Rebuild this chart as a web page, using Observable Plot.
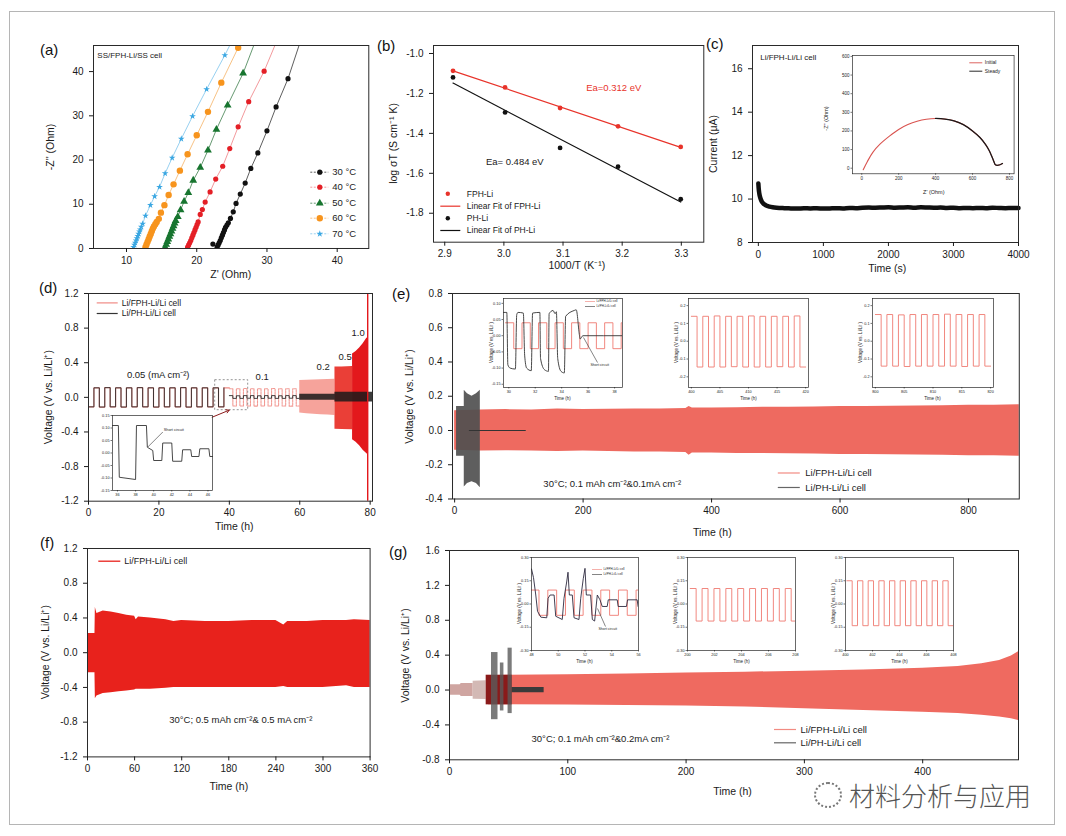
<!DOCTYPE html>
<html><head><meta charset="utf-8">
<script src="https://cdn.jsdelivr.net/npm/d3@7"></script>
<script src="https://cdn.jsdelivr.net/npm/@observablehq/plot@0.6"></script>
<style>
body{margin:0;background:#fff;}
#root{position:relative;width:1066px;height:836px;overflow:hidden;background:#fff;font-family:"Liberation Sans",Arial,Helvetica,sans-serif;}
.plab{position:absolute;font-size:15px;line-height:18px;color:#111;}
</style></head><body><div id="root"></div>
<script>
// ================= DATA =================
// (a) Nyquist plots, SS/FPH-Li/SS
const a30x=[22.3,22.9,23.05,23.2,23.35,23.5,23.65,23.8,23.95,24.1,24.3,24.5,24.8,25.2,25.6,26.2,26.9,27.7,28.7,30.0,31.3,33.0,34.9];
const a30y=[1.0,0.3,0.8,1.3,1.8,2.4,3.0,3.6,4.2,4.8,5.3,5.8,6.8,8.3,10.2,12.3,14.8,18.1,21.6,26.6,32.0,38.4,47.5];
const a40x=[18.7,18.85,19.0,19.15,19.3,19.45,19.6,19.75,19.9,20.05,20.2,20.5,20.8,21.2,21.9,22.7,23.7,24.7,25.9,27.4,29.6,31.55];
const a40y=[0.3,0.8,1.3,1.8,2.4,3.0,3.6,4.2,4.8,5.4,6.0,7.7,8.8,10.5,12.8,15.7,18.6,22.6,27.5,33.2,40.1,47.5];
const a50x=[15.5,15.65,15.8,15.95,16.1,16.25,16.4,16.55,16.7,16.85,17.0,17.3,17.7,18.2,18.8,19.5,20.5,21.6,22.8,24.4,26.6,28.5];
const a50y=[0.3,0.9,1.5,2.1,2.7,3.3,3.9,4.5,5.1,5.7,6.3,7.2,8.7,10.6,12.6,15.4,18.3,22.2,26.9,32.4,39.6,47.5];
const a60x=[12.7,12.85,13.0,13.15,13.3,13.45,13.6,13.75,13.9,14.1,14.3,14.6,14.9,15.4,16.0,16.7,17.6,18.7,20.0,21.6,23.5,25.9,26.5];
const a60y=[0.3,0.9,1.5,2.1,2.7,3.3,3.9,4.5,5.0,5.5,6.0,6.7,8.1,9.8,12.1,14.5,17.6,21.3,25.6,30.9,37.5,45.4,47.5];
const a70x=[11.0,11.12,11.24,11.36,11.48,11.6,11.72,11.84,11.96,12.1,12.3,12.7,13.4,14.0,14.7,15.5,16.5,17.8,19.4,21.4,24.0,25.2];
const a70y=[0.3,0.8,1.3,1.8,2.3,2.8,3.3,3.8,4.3,4.9,5.6,7.4,9.8,11.8,13.9,17.0,20.5,24.8,29.9,36.0,43.7,47.5];
const aLabels=["30 °C","40 °C","50 °C","60 °C","70 °C"];
const aXTicks=[10,20,30,40], aYTicks=[0,10,20,30,40];

// (b) Arrhenius
const bX=[2.914,3.002,3.095,3.193,3.299];
const bFPH=[-1.087,-1.170,-1.273,-1.365,-1.468];
const bPH=[-1.120,-1.295,-1.473,-1.567,-1.730];
const bXTicks=[2.9,3.0,3.1,3.2,3.3], bYTicks=[-1.8,-1.6,-1.4,-1.2,-1.0];
const bLegend=["FPH-Li","Linear Fit of FPH-Li","PH-Li","Linear Fit of PH-Li"];

// (c) Chronoamperometry + inset EIS
const cT=[0,5,15,30,50,75,100,130,170,220,280,350,400,500,600,700,800,900,1000,1100,1200,1300,1400,1500,1600,1700,1800,1900,2000,2100,2200,2300,2400,2500,2600,2700,2800,2900,3000,3100,3200,3300,3400,3500,3600,3700,3800,3900,4000];
const cI=[10.72,10.5,10.25,10.05,9.9,9.8,9.74,9.69,9.65,9.62,9.6,9.59,9.58,9.57,9.56,9.58,9.57,9.58,9.56,9.57,9.58,9.57,9.59,9.58,9.6,9.61,9.6,9.61,9.62,9.6,9.61,9.62,9.6,9.62,9.61,9.6,9.61,9.59,9.6,9.58,9.59,9.58,9.59,9.58,9.6,9.59,9.58,9.59,9.59];
const cZr=[8,30,60,100,150,200,250,300,350,400,450,500,550,600,640,670,690,705,716,724,740,762];
const cZi=[-8,35,85,130,172,208,234,252,263,267,264,254,234,200,165,128,95,62,35,18,16,25];
const cXTicks=[0,1000,2000,3000,4000], cYTicks=[8,10,12,14,16];
const cInXTicks=[0,200,400,600,800], cInYTicks=[0,100,200,300,400,500,600];

// (d) rate capability
const dS1Low=[-0.11,-0.112,-0.11,-0.112,-0.11,-0.11,-0.112,-0.11,-0.11,-0.112,-0.11,-0.11,-0.11];
const dS1High=[0.11,0.112,0.11,0.11,0.112,0.11,0.11,0.11,0.112,0.11,0.11,0.11,0.11];
const dS2High=[0.1,0.1,0.102,0.1,0.1,0.1,0.102,0.1,0.1,0.1];
const dS2Low=[-0.1,-0.1,-0.1,-0.102,-0.1,-0.1,-0.1,-0.1,-0.102,-0.1];
const dS2BHigh=[0.02,0.018,0.02,0.02,0.018,0.02,0.02,0.018,0.02,0.02];
const dS2BLow=[-0.012,-0.012,-0.01,-0.012,-0.012,-0.01,-0.012,-0.012,-0.01,-0.012];
const d02T=[60,62,64,66,68,70], d02Top=[0.195,0.198,0.2,0.203,0.206,0.21], d02Bot=[-0.18,-0.19,-0.195,-0.2,-0.205,-0.21];
const d05T=[70,72,75], d05Top=[0.35,0.352,0.355], d05Bot=[-0.37,-0.372,-0.375];
const d10T=[75,76,77,78,79,79.3], d10Top=[0.5,0.53,0.57,0.62,0.68,0.69], d10Bot=[-0.49,-0.52,-0.56,-0.61,-0.65,-0.66];
const dBlkT=[60,70,70,80.66], dBlkTop=[0.035,0.035,0.06,0.06], dBlkBot=[-0.035,-0.035,-0.055,-0.055];
const dFailT=[79.3];
const dRates=["0.05 (mA cm⁻²)","0.1","0.2","0.5","1.0"];
const dInT=[35.45,36.1,36.2,38.0,38.1,39.2,39.3,39.9,40.0,40.9,41.0,42.0,42.1,43.1,43.2,44.1,44.2,45.0,45.1,46.1,46.2,46.5];
const dInV=[0.11,0.11,-0.097,-0.106,0.11,0.11,0.023,0.01,-0.03,-0.03,0.04,0.04,-0.033,-0.033,0.013,0.013,-0.014,-0.014,0.017,0.017,-0.014,-0.014];
const dXTicks=[0,20,40,60,80], dYTicks=[-1.2,-0.8,-0.4,0,0.4,0.8,1.2];
const dInXTicks=[36,38,40,42,44,46], dInYTicks=[-0.15,-0.1,-0.05,0,0.05,0.1,0.15];

// (e) 0.1 mA cm-2 cycling
const eRedT=[0,40,80,120,160,200,240,280,320,360,365,370,400,440,480,520,560,600,640,680,720,760,800,840,879];
const eRedTop=[0.115,0.12,0.122,0.12,0.125,0.122,0.124,0.125,0.126,0.128,0.14,0.132,0.132,0.133,0.135,0.136,0.137,0.14,0.14,0.142,0.143,0.145,0.147,0.148,0.15];
const eRedBot=[-0.115,-0.12,-0.118,-0.12,-0.122,-0.12,-0.123,-0.125,-0.125,-0.128,-0.145,-0.132,-0.132,-0.134,-0.135,-0.136,-0.138,-0.14,-0.14,-0.142,-0.143,-0.145,-0.147,-0.148,-0.15];
const eGrayT=[3,15,15,20,27,34,40], eGrayTop=[0.14,0.14,0.235,0.215,0.2,0.215,0.235], eGrayBot=[-0.15,-0.15,-0.33,-0.31,-0.3,-0.31,-0.335];
const eShortT=[23,110], eShortV=[0,0];
const eIn1BT=[29.6,29.85,29.93,30.1,30.5,30.6,30.7,31.1,31.2,31.35,31.7,31.8,32.35,32.4,32.7,33.0,33.05,33.35,33.5,33.6,33.7,33.95,34.2,34.3,34.95,35.1,35.35,35.4,35.6,38.7];
const eIn1BV=[0.072,0.072,-0.09,-0.1,-0.103,0.065,0.072,0.07,-0.06,-0.1,-0.108,0.07,0.072,-0.07,-0.105,-0.11,0.068,0.078,0.068,0.074,-0.07,-0.11,-0.115,0.06,0.078,0.08,0.0,-0.01,0.0,0.0];
const eIn1RHigh=[0.04,0.04,0.04,0.04,0.04,0.04,0.04,0.04], eIn1RLow=[-0.04,-0.04,-0.04,-0.04,-0.04,-0.04,-0.04,-0.04];
const eIn2High=[0.14,0.14,0.142,0.14,0.14,0.142,0.14,0.14,0.14,0.142], eIn2Low=[-0.145,-0.145,-0.145,-0.143,-0.145,-0.145,-0.145,-0.143,-0.145,-0.145];
const eIn3High=[0.15,0.15,0.148,0.15,0.15,0.15,0.152,0.15,0.15,0.15], eIn3Low=[-0.14,-0.14,-0.142,-0.14,-0.14,-0.14,-0.14,-0.142,-0.14,-0.14];
const eXTicks=[0,200,400,600,800], eYTicks=[-0.4,-0.2,0,0.2,0.4,0.6,0.8];
const eIn1XTicks=[30,32,34,36,38], eIn1YTicks=[-0.15,-0.1,-0.05,0,0.05,0.1];
const eIn2XTicks=[400,405,410,415,420], eIn3XTicks=[800,805,810,815,820], eIn23YTicks=[-0.2,-0.1,0,0.1,0.2];

// (f) 0.5 mA cm-2 cycling
const fT=[0,9.5,10,12,20,30,40,50,60,62,65,80,100,110,120,150,180,210,240,250,255,280,300,330,340,360];
const fTop=[0.22,0.22,0.52,0.45,0.48,0.47,0.45,0.43,0.42,0.38,0.41,0.40,0.38,0.36,0.37,0.36,0.36,0.37,0.37,0.32,0.36,0.36,0.37,0.37,0.38,0.37];
const fBot=[-0.23,-0.23,-0.53,-0.50,-0.47,-0.46,-0.45,-0.44,-0.43,-0.42,-0.42,-0.42,-0.41,-0.40,-0.40,-0.40,-0.40,-0.40,-0.40,-0.39,-0.40,-0.40,-0.40,-0.38,-0.40,-0.40];
const fXTicks=[0,60,120,180,240,300,360], fYTicks=[-1.2,-0.8,-0.4,0,0.4,0.8,1.2];

// (g) 0.2 mA cm-2 cycling
const gRedT=[33,50,100,150,200,250,300,350,400,430,450,465,475,481];
const gRedTop=[0.165,0.17,0.175,0.185,0.195,0.205,0.215,0.23,0.25,0.27,0.30,0.34,0.39,0.44];
const gRedBot=[-0.17,-0.17,-0.172,-0.177,-0.182,-0.195,-0.215,-0.235,-0.255,-0.27,-0.29,-0.31,-0.33,-0.35];
const gE1T=[0,9,10,20], gE1Top=[0.06,0.06,0.075,0.075], gE1Bot=[-0.06,-0.06,-0.075,-0.075];
const gE2T=[20,31], gE2Top=[0.1,0.105], gE2Bot=[-0.105,-0.11];
const gDkT=[31,53], gDkTop=[0.17,0.17], gDkBot=[-0.17,-0.17];
const gSpkT1=[35.5,43,49.5], gSpkT2=[41,46,53], gSpkTop=[0.43,0.31,0.48], gSpkBot=[-0.34,-0.24,-0.27];
const gShortT=[53,80], gShortTop=[0.03,0.03], gShortBot=[-0.03,-0.03];
const gIn1BT=[48.0,48.15,48.32,48.45,48.7,49.14,49.24,49.39,49.69,49.81,50.3,50.43,50.63,50.73,50.83,51.05,51.18,51.55,51.68,51.87,52.0,52.1,52.42,52.55,52.72,52.92,53.12,53.29,53.66,53.74,54.41,54.48,55.1,55.18,55.9,55.97];
const gIn1BV=[0.226,0.17,0.058,-0.047,-0.085,-0.089,0.037,0.058,0.058,-0.079,-0.1,0.037,0.142,0.205,0.058,0.058,-0.089,-0.1,0.037,0.163,0.23,0.058,0.058,-0.1,-0.11,0.058,0.027,-0.016,-0.016,0.027,0.027,-0.016,-0.016,0.027,0.027,-0.016];
const gIn1RHigh=[0.09,0.09,0.09,0.09,0.09,0.09,0.09], gIn1RLow=[-0.073,-0.073,-0.073,-0.073,-0.073,-0.073,-0.073];
const gIn2High=[0.1,0.1,0.1,0.1,0.1,0.1,0.1,0.1,0.1], gIn2Low=[-0.11,-0.11,-0.11,-0.11,-0.11,-0.11,-0.11,-0.11,-0.11];
const gIn3High=[0.15,0.15,0.15,0.15,0.15,0.15,0.15,0.15,0.15,0.15], gIn3Low=[-0.14,-0.14,-0.14,-0.14,-0.14,-0.14,-0.14,-0.14,-0.14,-0.14];
const gXTicks=[0,100,200,300,400], gYTicks=[-0.8,-0.4,0,0.4,0.8,1.2,1.6];
const gIn1XTicks=[48,50,52,54,56], gIn2XTicks=[200,202,204,206,208], gIn3XTicks=[400,402,404,406,408], gInYTicks=[-0.3,-0.15,0,0.15,0.3];

const cellF="Li/FPH-Li/Li cell", cellP="Li/PH-Li/Li cell";

// ================= LAYOUT =================
const FONT='"Liberation Sans", Arial, Helvetica, sans-serif';
const root=document.getElementById("root");
const FR={
 a:{l:92.7,r:368,t:45,b:248}, b:{l:432.7,r:703,t:45,b:241.7}, c:{l:752.3,r:1018.3,t:45,b:242},
 cIn:{l:851.7,r:1013.3,t:55,b:173.3},
 d:{l:88.3,r:372.3,t:293.3,b:501}, dIn:{l:111.7,r:211.7,t:415,b:490},
 e:{l:452.2,r:1019,t:293,b:498.5},
 eIn1:{l:503,r:622,t:298,b:387}, eIn2:{l:688,r:808,t:298,b:387}, eIn3:{l:872,r:993,t:298,b:387},
 f:{l:86.7,r:369.3,t:548.3,b:756.7},
 g:{l:449,r:1018,t:550,b:759.3},
 gIn1:{l:531,r:638,t:557,b:650}, gIn2:{l:687,r:795,t:557,b:650}, gIn3:{l:845,r:953,t:557,b:650}
};
const pts=(xs,ys)=>xs.map((x,i)=>[x,ys[i]]);
const band=(ts,lo,hi)=>ts.map((t,i)=>({t,lo:lo[i],hi:hi[i]}));
const sq=(t0,P,first,second)=>{const o=[];first.forEach((v,i)=>{const a=t0+i*P,m=a+P/2,e=a+P;o.push([a,v],[m,v],[m,second[i]],[e,second[i]]);});return o;};
const f1=d=>d.toFixed(1), f2=d=>d.toFixed(2), fi=d=>String(d);
const P0=d=>d[0], P1=d=>d[1];

function build(key,xdom,ydom,cfg){
  const fr=FR[key], ml=70, mr=30, mt=20, mb=50;
  const w=fr.r-fr.l, h=fr.b-fr.t;
  const X=px=>xdom[0]+(px-fr.l)/w*(xdom[1]-xdom[0]);
  const Y=py=>ydom[0]+(fr.b-py)/h*(ydom[1]-ydom[0]);
  const fs=cfg.fs||10, ts=cfg.ts??4, inset=cfg.inset;
  const T=(s,px,py,o={})=>Plot.text([s],{x:X(px),y:Y(py),text:d=>d,fontSize:o.fs||fs,fill:o.fill||"#1a1a1a",textAnchor:o.anchor||"middle",rotate:o.rotate||0,fontWeight:o.fw||"normal"});
  const marks=[
    ...cfg.marks(X,Y,T),
    Plot.frame({stroke:"#2a2a2a",strokeWidth:inset?0.7:1}),
    Plot.axisX(cfg.xt,{tickSize:ts,tickPadding:cfg.tpx??4,tickFormat:cfg.xf||fi,label:null,strokeWidth:inset?0.6:1,fontSize:fs}),
    Plot.axisY(cfg.yt,{tickSize:ts,tickPadding:cfg.tpy??6,tickFormat:cfg.yf||fi,label:null,strokeWidth:inset?0.6:1,fontSize:fs})
  ];
  if(cfg.xl) marks.push(T(cfg.xl[0],cfg.xl[1],cfg.xl[2],{fs:cfg.lfs||fs+0.5}));
  if(cfg.yl) marks.push(T(cfg.yl[0],cfg.yl[1],cfg.yl[2],{fs:cfg.lfs||fs+0.5,rotate:-90}));
  const svg=Plot.plot({width:w+ml+mr,height:h+mt+mb,marginLeft:ml,marginRight:mr,marginTop:mt,marginBottom:mb,
    x:{domain:xdom},y:{domain:ydom},
    style:{fontFamily:FONT,fontSize:fs+"px",background:"transparent",overflow:"visible",color:"#1a1a1a"},marks});
  svg.style.position="absolute"; svg.style.left=(fr.l-ml)+"px"; svg.style.top=(fr.t-mt)+"px"; svg.style.maxWidth="none";
  root.appendChild(svg);
}

// ---------- (a) ----------
const aStyle=[
 {x:a30x,y:a30y,fill:"#111",line:"#333",sym:"circle",r:2.6},
 {x:a40x,y:a40y,fill:"#e41f26",line:"#ef7f83",sym:"circle",r:2.6},
 {x:a50x,y:a50y,fill:"#17752f",line:"#3f7f4d",sym:"triangle",r:2.9},
 {x:a60x,y:a60y,fill:"#f7941d",line:"#f5b266",sym:"circle",r:3.2},
 {x:a70x,y:a70y,fill:"#3aa7e2",line:"#7cc4ec",sym:"star",r:2.1}];
build("a",[5.3,44.5],[0,45.9],{xt:aXTicks,yt:aYTicks,xl:["Z' (Ohm)",230,274],yl:["-Z'' (Ohm)",50,146.5],
 marks:(X,Y,T)=>[
  ...aStyle.flatMap(s=>[Plot.line(pts(s.x,s.y),{x:P0,y:P1,stroke:s.line,strokeWidth:0.8,clip:true}),
    Plot.dot(pts(s.x,s.y),{x:P0,y:P1,fill:s.fill,r:s.r,symbol:s.sym,clip:true})]),
  T("SS/FPH-Li/SS cell",96.5,55,{fs:8,anchor:"start"}),
  ...aLabels.flatMap((lab,i)=>{const yy=[171.7,186.7,202.7,217.7,233.3][i], s=aStyle[i];return [
    Plot.ruleY([Y(yy)],{x1:X(310),x2:X(328),stroke:s.line,strokeWidth:0.8,strokeDasharray:"2,1.5"}),
    Plot.dot([0],{x:X(319),y:Y(yy),fill:s.fill,r:s.r,symbol:s.sym}),
    T(lab,331.5,yy,{fs:9.5,anchor:"start"})];})
 ]});

// ---------- (b) ----------
function fit(xs,ys){const mx=d3.mean(xs),my=d3.mean(ys);const k=d3.sum(xs,(x,i)=>(x-mx)*(ys[i]-my))/d3.sum(xs,x=>(x-mx)**2);return xs.map(x=>[x,my+k*(x-mx)]);}
build("b",[2.881,3.338],[-1.945,-0.96],{xt:bXTicks,yt:bYTicks,xf:f1,yf:f1,xl:["1000/T (K⁻¹)",576,265],yl:["log σT (S cm⁻¹ K)",393,143],
 marks:(X,Y,T)=>[
  Plot.line([fit(bX,bFPH)[0],fit(bX,bFPH)[4]],{x:P0,y:P1,stroke:"#e8332a",strokeWidth:1.2}),
  Plot.line([fit(bX,bPH)[0],fit(bX,bPH)[4]],{x:P0,y:P1,stroke:"#111",strokeWidth:1.2}),
  Plot.dot(pts(bX,bFPH),{x:P0,y:P1,fill:"#e8332a",r:2.4}),
  Plot.dot(pts(bX,bPH),{x:P0,y:P1,fill:"#111",r:2.4}),
  T("Ea=0.312 eV",613,87.3,{fs:9.5,fill:"#e8332a"}),
  T("Ea= 0.484 eV",514,161.7,{fs:9.5}),
  Plot.dot([0],{x:X(447),y:Y(193.3),fill:"#e8332a",r:2.2}),
  Plot.ruleY([Y(205.7)],{x1:X(440),x2:X(460),stroke:"#e8332a",strokeWidth:1.2}),
  Plot.dot([0],{x:X(447),y:Y(217.7),fill:"#111",r:2.2}),
  Plot.ruleY([Y(230)],{x1:X(440),x2:X(460),stroke:"#111",strokeWidth:1.2}),
  ...bLegend.map((s,i)=>T(s,466,[193.3,205.7,217.7,230][i],{fs:8.5,anchor:"start"}))
 ]});

// ---------- (c) ----------
build("c",[-90,4000],[8,17.07],{xt:cXTicks,yt:cYTicks,xl:["Time (s)",887,268],yl:["Current (μA)",713,143.5],
 marks:(X,Y,T)=>[
  Plot.line(pts(cT,cI),{x:P0,y:P1,stroke:"#111",strokeWidth:4.5,curve:"monotone-x"}),
  T("Li/FPH-Li/Li cell",760,56.7,{fs:8,anchor:"start"})
 ]});
build("cIn",[-50,825],[-30,605],{inset:true,fs:4.5,ts:1.5,tpx:1.5,tpy:1.5,xt:cInXTicks,yt:cInYTicks,xl:["Z' (Ohm)",933,191.5],yl:["-Z'' (Ohm)",825,118],lfs:5.5,
 marks:(X,Y,T)=>[
  Plot.line(pts(cZr,cZi),{x:P0,y:P1,stroke:"#d9534f",strokeWidth:1.1,curve:"catmull-rom"}),
  Plot.line(pts(cZr,cZi).filter(d=>d[0]>=400),{x:P0,y:P1,stroke:"#1a1a1a",strokeWidth:1.3,curve:"catmull-rom"}),
  Plot.ruleY([Y(62.3)],{x1:X(969),x2:X(982),stroke:"#d9534f",strokeWidth:0.9}),
  Plot.ruleY([Y(70.7)],{x1:X(969),x2:X(982),stroke:"#111",strokeWidth:0.9}),
  T("Initial",984,62.3,{fs:5,anchor:"start"}),T("Steady",984,70.7,{fs:5,anchor:"start"})
 ]});

// ---------- (d) ----------
const dS1=sq(0,40/13,dS1Low,dS1High);
build("d",[0,80.66],[-1.2,1.2],{xt:dXTicks,yt:dYTicks,xf:fi,yf:f1,xl:["Time (h)",234,526.5],yl:["Voltage (V vs. Li/Li⁺)",48,397],
 marks:(X,Y,T)=>[
  Plot.line(dS1,{x:P0,y:P1,stroke:"#f08a84",strokeWidth:1.2}),
  Plot.line(dS1.filter(d=>d[0]<=39.3),{x:P0,y:P1,stroke:"#2b2b2b",strokeWidth:1,strokeOpacity:0.9}),
  Plot.line(sq(40,2,dS2High,dS2Low),{x:P0,y:P1,stroke:"#f29a94",strokeWidth:1.1,strokeDasharray:"2,1"}),
  Plot.line(sq(40,2,dS2BHigh,dS2BLow),{x:P0,y:P1,stroke:"#2b2b2b",strokeWidth:0.9}),
  Plot.areaY(band(d02T,d02Bot,d02Top),{x:"t",y1:"lo",y2:"hi",fill:"#f6a39b"}),
  Plot.areaY(band(d05T,d05Bot,d05Top),{x:"t",y1:"lo",y2:"hi",fill:"#ea3f37"}),
  Plot.areaY(band(d10T,d10Bot,d10Top),{x:"t",y1:"lo",y2:"hi",fill:"#e3181c"}),
  Plot.areaY(band(dBlkT,dBlkBot,dBlkTop),{x:"t",y1:"lo",y2:"hi",fill:"#1a1a1a",fillOpacity:0.85,clip:true}),
  Plot.ruleX(dFailT,{y1:-1.2,y2:1.2,stroke:"#e3181c",strokeWidth:1.4}),
  Plot.rect([0],{x1:X(215),x2:X(248),y1:Y(410),y2:Y(380),stroke:"#777",strokeDasharray:"2,2",fill:"none",strokeWidth:0.8}),
  Plot.arrow([0],{x1:X(212),y1:Y(417),x2:X(229),y2:Y(410),stroke:"#8b1a1a",strokeWidth:1,headLength:5}),
  T(dRates[0],158,375,{fs:9.5}),T(dRates[1],262,376.7,{fs:9.5}),T(dRates[2],323,367,{fs:9.5}),T(dRates[3],345,356.7,{fs:9.5}),T(dRates[4],358,332.7,{fs:9.5}),
  Plot.ruleY([Y(302.7)],{x1:X(97),x2:X(118),stroke:"#f08a84",strokeWidth:1.2}),
  Plot.ruleY([Y(313.3)],{x1:X(97),x2:X(118),stroke:"#333",strokeWidth:1.2}),
  T(cellF,121.5,302.7,{fs:8.5,anchor:"start"}),T(cellP,121.5,313.3,{fs:8.5,anchor:"start"})
 ]});
build("dIn",[35.45,46.5],[-0.15,0.15],{inset:true,fs:3.8,ts:1.5,tpx:1.5,tpy:1.5,xt:dInXTicks,yt:dInYTicks,yf:f2,
 marks:(X,Y,T)=>[
  Plot.line(pts(dInT,dInV),{x:P0,y:P1,stroke:"#333",strokeWidth:0.9}),
  Plot.link([0],{x1:X(162),y1:Y(431.5),x2:X(147),y2:Y(446.5),stroke:"#333",strokeWidth:0.6}),
  T("Short circuit",163,429.5,{fs:3.8,anchor:"start"})
 ]});

// ---------- (e) ----------
build("e",[-3.3,879],[-0.4,0.8],{xt:eXTicks,yt:eYTicks,yf:f1,xl:["Time (h)",712,532],yl:["Voltage (V vs. Li/Li⁺)",409,396],
 marks:(X,Y,T)=>[
  Plot.areaY(band(eRedT,eRedBot,eRedTop),{x:"t",y1:"lo",y2:"hi",fill:"#ee6a60"}),
  Plot.areaY(band(eGrayT,eGrayBot,eGrayTop),{x:"t",y1:"lo",y2:"hi",fill:"#505050",fillOpacity:0.92}),
  Plot.line(pts(eShortT,eShortV),{x:P0,y:P1,stroke:"#333",strokeWidth:1.2}),
  T("30°C; 0.1 mAh cm⁻²&0.1mA cm⁻²",612,483,{fs:9.5}),
  Plot.ruleY([Y(472.5)],{x1:X(778),x2:X(800),stroke:"#f28b82",strokeWidth:1.2}),
  Plot.ruleY([Y(487)],{x1:X(778),x2:X(800),stroke:"#666",strokeWidth:1.2}),
  T(cellF,805,472.5,{fs:9.5,anchor:"start"}),T(cellP,805,487,{fs:9.5,anchor:"start"})
 ]});
const insetCommon={inset:true,fs:3.8,ts:1.5,tpx:1.5,tpy:1.5,lfs:4.5};
build("eIn1",[29.6,38.6],[-0.16,0.115],{...insetCommon,xt:eIn1XTicks,yt:eIn1YTicks,yf:f2,xl:["Time (h)",562,398],yl:["Voltage (V vs. Li/Li⁺)",491,342],
 marks:(X,Y,T)=>[
  Plot.line(sq(29.75,1.25,eIn1RHigh,eIn1RLow),{x:P0,y:P1,stroke:"#ef7b72",strokeWidth:0.9,clip:true}),
  Plot.line(pts(eIn1BT,eIn1BV),{x:P0,y:P1,stroke:"#333",strokeWidth:0.9,clip:true,curve:"monotone-x"}),
  Plot.link([0],{x1:X(583),y1:Y(337),x2:X(597),y2:Y(362),stroke:"#333",strokeWidth:0.6}),
  T("Short circuit",590,364.5,{fs:3.5,anchor:"start"}),
  Plot.ruleY([Y(301)],{x1:X(585),x2:X(595),stroke:"#ef7b72",strokeWidth:0.6}),
  Plot.ruleY([Y(306)],{x1:X(585),x2:X(595),stroke:"#333",strokeWidth:0.6}),
  T(cellF,596,301,{fs:3,anchor:"start"}),T(cellP,596,306,{fs:3,anchor:"start"})
 ]});
build("eIn2",[399.5,420.5],[-0.26,0.24],{...insetCommon,xt:eIn2XTicks,yt:eIn23YTicks,yf:f1,xl:["Time (h)",748,398],yl:["Voltage (V vs. Li/Li⁺)",676,342],
 marks:(X,Y,T)=>[Plot.line(sq(400,2,eIn2High,eIn2Low),{x:P0,y:P1,stroke:"#ef7b72",strokeWidth:0.9,clip:true})]});
build("eIn3",[799.5,820.5],[-0.26,0.24],{...insetCommon,xt:eIn3XTicks,yt:eIn23YTicks,yf:f1,xl:["Time (h)",932,398],yl:["Voltage (V vs. Li/Li⁺)",860,342],
 marks:(X,Y,T)=>[Plot.line(sq(800,2,eIn3High,eIn3Low),{x:P0,y:P1,stroke:"#ef7b72",strokeWidth:0.9,clip:true})]});

// ---------- (f) ----------
build("f",[0,360],[-1.2,1.2],{xt:fXTicks,yt:fYTicks,yf:f1,xl:["Time (h)",228,786.5],yl:["Voltage (V vs. Li/Li⁺)",45,652],
 marks:(X,Y,T)=>[
  Plot.areaY(band(fT,fBot,fTop),{x:"t",y1:"lo",y2:"hi",fill:"#e8221c"}),
  T("30°C; 0.5 mAh cm⁻²& 0.5 mA cm⁻²",240,719.3,{fs:9.5}),
  Plot.ruleY([Y(561)],{x1:X(98),x2:X(120),stroke:"#e8221c",strokeWidth:1.3}),
  T(cellF,123.5,561,{fs:9,anchor:"start"})
 ]});

// ---------- (g) ----------
build("g",[0,481],[-0.8,1.6],{xt:gXTicks,yt:gYTicks,yf:f1,xl:["Time (h)",732,791.5],yl:["Voltage (V vs. Li/Li⁺)",405,655],
 marks:(X,Y,T)=>[
  Plot.areaY(band(gRedT,gRedBot,gRedTop),{x:"t",y1:"lo",y2:"hi",fill:"#ef6a60"}),
  Plot.areaY(band(gE1T,gE1Bot,gE1Top),{x:"t",y1:"lo",y2:"hi",fill:"#cfa5a1"}),
  Plot.areaY(band(gE2T,gE2Bot,gE2Top),{x:"t",y1:"lo",y2:"hi",fill:"#d3b9b5"}),
  Plot.areaY(band(gDkT,gDkBot,gDkTop),{x:"t",y1:"lo",y2:"hi",fill:"#8a1a1a"}),
  Plot.rect(gSpkT1.map((t,i)=>i),{x1:i=>gSpkT1[i],x2:i=>gSpkT2[i],y1:i=>gSpkBot[i],y2:i=>gSpkTop[i],fill:"#5a5a5a",fillOpacity:0.8}),
  Plot.areaY(band(gShortT,gShortBot,gShortTop),{x:"t",y1:"lo",y2:"hi",fill:"#3a3a3a"}),
  T("30°C; 0.1 mAh cm⁻²&0.2mA cm⁻²",600,738.3,{fs:9.5}),
  Plot.ruleY([Y(729)],{x1:X(774),x2:X(796),stroke:"#f28b82",strokeWidth:1.2}),
  Plot.ruleY([Y(742.3)],{x1:X(774),x2:X(796),stroke:"#666",strokeWidth:1.2}),
  T(cellF,800,729,{fs:9.5,anchor:"start"}),T(cellP,800,742.3,{fs:9.5,anchor:"start"})
 ]});
build("gIn1",[48,56],[-0.3,0.3],{...insetCommon,xt:gIn1XTicks,yt:gInYTicks,yf:f2,xl:["Time (h)",584,661],yl:["Voltage (V vs. Li/Li⁺)",519,603],
 marks:(X,Y,T)=>[
  Plot.line(sq(47.9,1.32,gIn1RHigh,gIn1RLow),{x:P0,y:P1,stroke:"#ef7b72",strokeWidth:0.9,clip:true}),
  Plot.line(pts(gIn1BT,gIn1BV),{x:P0,y:P1,stroke:"#2e2a40",strokeWidth:0.9,clip:true}),
  Plot.link([0],{x1:X(597),y1:Y(608),x2:X(605),y2:Y(626),stroke:"#333",strokeWidth:0.6}),
  T("Short circuit",598,628.5,{fs:3.5,anchor:"start"}),
  Plot.ruleY([Y(569)],{x1:X(592),x2:X(602),stroke:"#ef7b72",strokeWidth:0.6}),
  Plot.ruleY([Y(574)],{x1:X(592),x2:X(602),stroke:"#333",strokeWidth:0.6}),
  T(cellF,603,569,{fs:3,anchor:"start"}),T(cellP,603,574,{fs:3,anchor:"start"})
 ]});
build("gIn2",[200,208],[-0.3,0.3],{...insetCommon,xt:gIn2XTicks,yt:gInYTicks,yf:f2,xl:["Time (h)",741,661],yl:["Voltage (V vs. Li/Li⁺)",675,603],
 marks:(X,Y,T)=>[Plot.line(sq(200.2,0.88,gIn2High,gIn2Low),{x:P0,y:P1,stroke:"#ef7b72",strokeWidth:0.9,clip:true})]});
build("gIn3",[400,408],[-0.3,0.3],{...insetCommon,xt:gIn3XTicks,yt:gInYTicks,yf:f2,xl:["Time (h)",899,661],yl:["Voltage (V vs. Li/Li⁺)",833,603],
 marks:(X,Y,T)=>[Plot.line(sq(400.1,0.79,gIn3High,gIn3Low),{x:P0,y:P1,stroke:"#ef7b72",strokeWidth:0.9,clip:true})]});

// ---------- panel letters, frame, watermark ----------
[["(a)",40,41],["(b)",377,37],["(c)",706,35],["(d)",39,279],["(e)",392,285],["(f)",40,534],["(g)",389,543]].forEach(([s,x,y])=>{
  const d=document.createElement("div");d.className="plab";d.textContent=s;d.style.left=x+"px";d.style.top=y+"px";root.appendChild(d);});
const border=document.createElement("div");
Object.assign(border.style,{position:"absolute",left:"9px",top:"11px",width:"1046px",height:"814px",border:"1px solid #b5b5b5",boxSizing:"border-box",pointerEvents:"none"});
root.appendChild(border);
const wm=document.createElement("div");
Object.assign(wm.style,{position:"absolute",left:"849px",top:"782px",fontFamily:'"Noto Sans CJK SC",sans-serif',fontSize:"26px",lineHeight:"26px",color:"#555",fontWeight:"300"});
wm.textContent="材料分析与应用";root.appendChild(wm);
const ic=document.createElement("div");
Object.assign(ic.style,{position:"absolute",left:"814px",top:"782px",width:"28px",height:"26px",borderRadius:"50%",border:"2px dotted #777",boxSizing:"border-box"});
root.appendChild(ic);
</script></body></html>
